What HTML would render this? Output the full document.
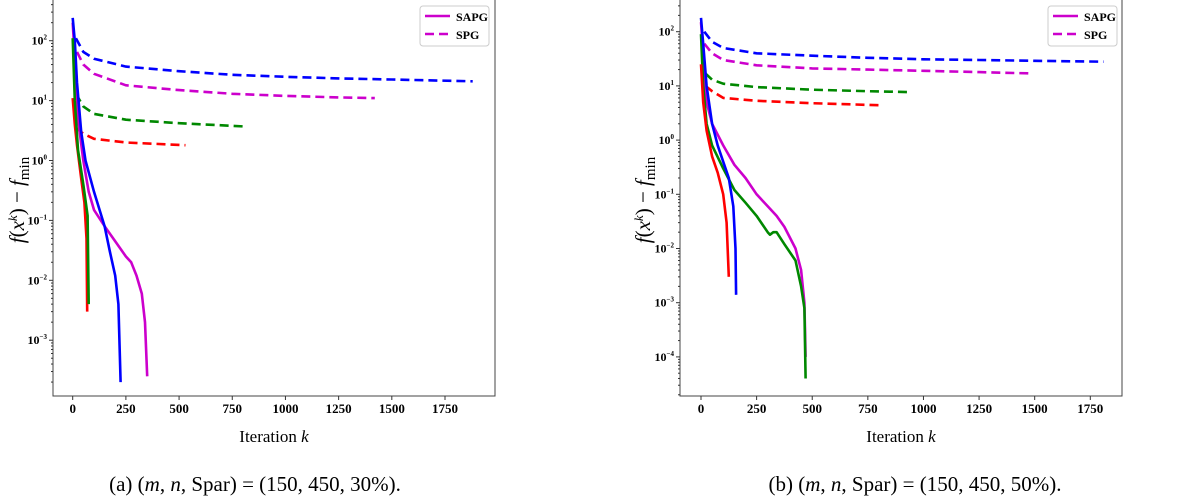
<!DOCTYPE html>
<html><head><meta charset="utf-8"><style>
body{margin:0;background:#fff;width:1200px;height:502px;overflow:hidden;font-family:"Liberation Serif",serif}
svg{position:absolute;left:0;top:0}
</style></head><body>
<svg id="svg" width="1200" height="502"></svg>
<script>
const xTicks=[0,250,500,750,1000,1250,1500,1750];
// Panel A data
const aRedSolidX=[0,10,20,40,55,65,68], aRedSolidY=[11,4,1.8,0.5,0.2,0.05,0.003];
const aGreenSolidX=[0,10,25,50,70,74,75], aGreenSolidY=[110,10,1.5,0.4,0.12,0.01,0.004];
const aBlueSolidX=[0,10,20,40,60,100,150,175,200,215,225], aBlueSolidY=[240,100,20,3,1,0.3,0.08,0.03,0.012,0.004,0.0002];
const aMagSolidX=[0,10,25,50,75,100,150,200,250,275,300,325,340,350], aMagSolidY=[200,50,5,1,0.3,0.15,0.08,0.045,0.025,0.02,0.012,0.006,0.002,0.00025];
const aBlueDashX=[15,50,100,250,500,750,1000,1250,1500,1880], aBlueDashY=[110,65,50,37,31,27,25,23.5,22.5,21];
const aMagDashX=[20,50,100,250,500,750,1000,1250,1420], aMagDashY=[65,40,28,18,15,13,12,11.3,11];
const aGreenDashX=[15,50,100,250,500,810], aGreenDashY=[13,8,6,4.8,4.2,3.7];
const aRedDashX=[15,50,100,250,530], aRedDashY=[3.5,2.8,2.3,2.0,1.8];
// Panel B data
const bRedSolidX=[0,10,25,50,75,100,115,125], bRedSolidY=[25,5,1.5,0.5,0.25,0.1,0.03,0.003];
const bBlueSolidX=[0,10,25,50,75,100,125,145,155,158], bBlueSolidY=[180,60,10,2,0.8,0.4,0.2,0.06,0.01,0.0014];
const bGreenSolidX=[0,10,25,50,100,150,200,250,300,310,325,340,375,425,450,465,470], bGreenSolidY=[90,10,2,0.8,0.3,0.12,0.07,0.04,0.02,0.018,0.02,0.02,0.012,0.006,0.002,0.0008,0.00004];
const bMagSolidX=[0,25,50,100,150,200,250,300,340,375,425,450,465,470], bMagSolidY=[150,5,2,0.8,0.35,0.2,0.1,0.06,0.04,0.025,0.01,0.004,0.001,0.0001];
const bBlueDashX=[15,50,100,250,500,750,1000,1250,1500,1810], bBlueDashY=[100,65,50,40,36,33,31,30,29,28];
const bMagDashX=[15,50,100,250,500,750,1000,1250,1480], bMagDashY=[60,40,30,24,21,20,19,18,17];
const bGreenDashX=[20,50,100,250,500,750,940], bGreenDashY=[17,13,11,9.5,8.5,8,7.7];
const bRedDashX=[20,50,100,250,500,800], bRedDashY=[10,8,6,5.3,4.8,4.4];

const NS="http://www.w3.org/2000/svg";
const svg=document.getElementById('svg');
function mk(tag,attrs,parent){const e=document.createElementNS(NS,tag);for(const k in attrs)e.setAttribute(k,attrs[k]);(parent||svg).appendChild(e);return e;}

function panel(cfg){
  const g=mk('g',{});
  
  
  const xs=v=>cfg.x0+v*cfg.xs;
  const ys=v=>cfg.y2-(Math.log10(v)-2)*cfg.dec;
  const clip='clip'+cfg.id;
  const cp=mk('clipPath',{id:clip},g);mk('rect',{x:cfg.L,y:0,width:cfg.R-cfg.L,height:cfg.B},cp);
  const frame=mk('rect',{x:cfg.L,y:-1,width:cfg.R-cfg.L,height:cfg.B+1,fill:'none',stroke:'#444','stroke-width':1},g);
  
  
  xTicks.forEach(t=>{
    const x=xs(t);mk('line',{x1:x,x2:x,y1:cfg.B,y2:cfg.B+4,stroke:'#333'},g);
    const tx=mk('text',{x:x,y:cfg.B+17,'text-anchor':'middle','font-size':13,'font-weight':'bold'},g);tx.textContent=t;
    
    
  });
  for(let e=cfg.eMin;e<=2;e++){
    const y=ys(Math.pow(10,e));
    mk('line',{x1:cfg.L-4,x2:cfg.L,y1:y,y2:y,stroke:'#333'},g);
    const tx=mk('text',{x:cfg.L-6,y:y+4,'text-anchor':'end','font-size':12,'font-weight':'bold'},g);
    tx.innerHTML='10<tspan dy="-5" font-size="7">'+(e<0?'−'+(-e):e)+'</tspan>';
    
    
    for(let m=2;m<10;m++){const yy=ys(m*Math.pow(10,e));if(yy>0&&yy<cfg.B)mk('line',{x1:cfg.L-2,x2:cfg.L,y1:yy,y2:yy,stroke:'#333'},g);}
    if(e==cfg.eMin){for(let m=2;m<10;m++){const yy=ys(m*Math.pow(10,e-1));if(yy<cfg.B)mk('line',{x1:cfg.L-2,x2:cfg.L,y1:yy,y2:yy,stroke:'#333'},g);}}
  }
  const yl=mk('text',{x:0,y:0,transform:`translate(${cfg.ylx},200) rotate(-90)`,'text-anchor':'middle','font-size':21},g);
  yl.innerHTML='<tspan font-style="italic">f</tspan>(<tspan font-style="italic">x</tspan><tspan dy="-7" font-size="13" font-style="italic">k</tspan><tspan dy="7">) − </tspan><tspan font-style="italic">f</tspan><tspan dy="5" font-size="15">min</tspan>';
  
  
  const xl=mk('text',{x:(cfg.L+cfg.R)/2,y:442,'text-anchor':'middle','font-size':17},g);
  xl.innerHTML='Iteration <tspan font-style="italic">k</tspan>';
  
  
  const lg=mk('g',{'clip-path':`url(#${clip})`},g);
  cfg.series.forEach(s=>{
    const d=s.x.map((v,i)=>(i?'L':'M')+xs(v).toFixed(1)+','+ys(s.y[i]).toFixed(1)).join(' ');
    const p=mk('path',{d:d,fill:'none',stroke:s.c,'stroke-width':2.6,'stroke-dasharray':s.dash?'9,5':'none','stroke-linejoin':'round'},lg);
    
    
  });
  const leg=mk('g',{},g);
  
  
  mk('rect',{x:cfg.lgx,y:6,width:69,height:40,rx:3,fill:'#fff',stroke:'#ccc'},leg);
  mk('line',{x1:cfg.lgx+5,x2:cfg.lgx+30,y1:16,y2:16,stroke:'#c0c','stroke-width':2.6},leg);
  mk('line',{x1:cfg.lgx+5,x2:cfg.lgx+30,y1:34,y2:34,stroke:'#c0c','stroke-width':2.6,'stroke-dasharray':'9,5'},leg);
  const t1=mk('text',{x:cfg.lgx+36,y:21,'font-size':12,'font-weight':'bold'},leg);t1.textContent='SAPG';
  
  
  const t2=mk('text',{x:cfg.lgx+36,y:39,'font-size':12,'font-weight':'bold'},leg);t2.textContent='SPG';
  
  
  const cap=mk('text',{x:cfg.capx,y:491,'text-anchor':'middle','font-size':21},g);
  cap.innerHTML=cfg.cap;
  
  
}
panel({id:'a',name:'panel-a',L:53,R:495,B:396,x0:72.7,xs:372.3/1750,y2:40.7,dec:59.9,eMin:-3,ylx:24,lgx:420,capx:255,
 cap:'(a)  (<tspan font-style="italic">m</tspan>, <tspan font-style="italic">n</tspan>, Spar) = (150, 450, 30%).',
 series:[
 {x:aBlueDashX,y:aBlueDashY,c:'#00f',dash:1,n:'spg-blue'},{x:aMagDashX,y:aMagDashY,c:'#c0c',dash:1,n:'spg-magenta'},
 {x:aGreenDashX,y:aGreenDashY,c:'#080',dash:1,n:'spg-green'},{x:aRedDashX,y:aRedDashY,c:'#f00',dash:1,n:'spg-red'},
 {x:aMagSolidX,y:aMagSolidY,c:'#c0c',n:'sapg-magenta'},{x:aBlueSolidX,y:aBlueSolidY,c:'#00f',n:'sapg-blue'},
 {x:aRedSolidX,y:aRedSolidY,c:'#f00',n:'sapg-red'},{x:aGreenSolidX,y:aGreenSolidY,c:'#080',n:'sapg-green'}]});
panel({id:'b',name:'panel-b',L:680,R:1122,B:396,x0:701,xs:389.3/1750,y2:31.7,dec:54.2,eMin:-4,ylx:650,lgx:1048,capx:915,
 cap:'(b)  (<tspan font-style="italic">m</tspan>, <tspan font-style="italic">n</tspan>, Spar) = (150, 450, 50%).',
 series:[
 {x:bBlueDashX,y:bBlueDashY,c:'#00f',dash:1,n:'spg-blue'},{x:bMagDashX,y:bMagDashY,c:'#c0c',dash:1,n:'spg-magenta'},
 {x:bGreenDashX,y:bGreenDashY,c:'#080',dash:1,n:'spg-green'},{x:bRedDashX,y:bRedDashY,c:'#f00',dash:1,n:'spg-red'},
 {x:bMagSolidX,y:bMagSolidY,c:'#c0c',n:'sapg-magenta'},{x:bGreenSolidX,y:bGreenSolidY,c:'#080',n:'sapg-green'},
 {x:bBlueSolidX,y:bBlueSolidY,c:'#00f',n:'sapg-blue'},{x:bRedSolidX,y:bRedSolidY,c:'#f00',n:'sapg-red'}]});
</script>
</body></html>
